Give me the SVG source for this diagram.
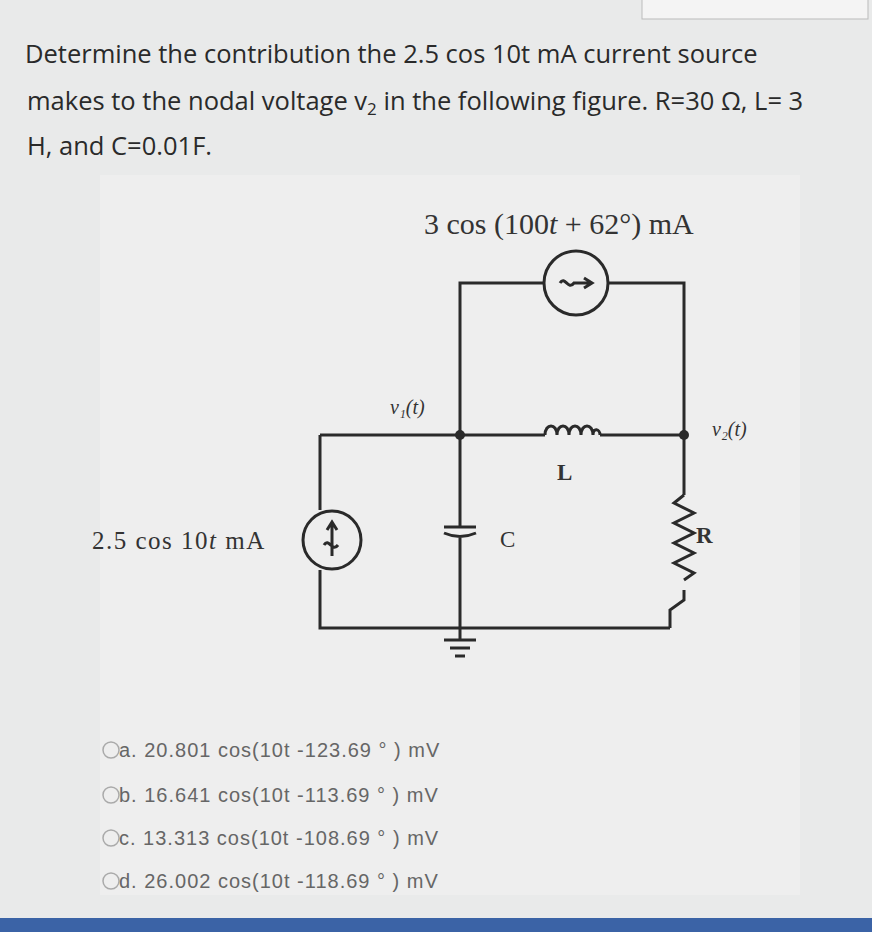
<svg xmlns="http://www.w3.org/2000/svg" width="872" height="932" viewBox="0 0 872 932">
<style>
.q{font-family:"Open Sans","Liberation Sans",sans-serif;font-size:25.5px;fill:#2a2a2a}
.c{font-family:"Liberation Serif",serif;fill:#333}
.w{stroke:#2a2a2a;stroke-width:3;fill:none}
.a{font-family:"Liberation Sans",sans-serif;font-size:20px;letter-spacing:1px;fill:#666}
.r{fill:none;stroke:#aaa;stroke-width:1.5}
</style>
<rect width="872" height="932" fill="#e9eaea"/>
<rect x="100" y="175" width="700" height="720" fill="#eeeeee"/>
<rect x="642" y="-5" width="226" height="24" fill="#f4f4f4" stroke="#bbb"/>
<rect x="0" y="918" width="872" height="14" fill="#3b63a6"/>
<text class="q" x="25" y="63">Determine the contribution the 2.5 cos 10t mA current source</text>
<text class="q" x="27" y="110">makes to the nodal voltage v<tspan font-size="17" dy="5">2</tspan><tspan dy="-5"> in the following figure. R=30 Ω, L= 3</tspan></text>
<text class="q" x="27" y="155">H, and C=0.01F.</text>
<g id="connectors">
<path class="w" d="M460,435 V283 H544 M608,283 H684 V435 M320,435 H545 M600,435 H684 M320,435 V510 M320,570 V628 H670 M460,435 V527 M460,538 V640 M684,435 V495 M684,590 V600 L670,610 V628"/>
<path class="w" d="M545,435 c0,-12 12,-12 12,0 c0,-12 12,-12 12,0 c0,-12 12,-12 12,0 c0,-12 12,-12 12,0 c0,-8 7,-6 7,0"/>
<path class="w" stroke-width="2" d="M684,495 l-10,8 l20,10 l-20,10 l20,10 l-20,10 l20,10 l-20,10 l20,10 l-10,7"/>
<path class="w" d="M444,527 H476 M444,533 Q460,540 476,533"/>
<path class="w" d="M444,640 H476 M450,648 H470 M455,656 H465"/>
</g>
<g id="nodes" fill="#2a2a2a">
<circle cx="460" cy="435" r="5"/><circle cx="684" cy="435" r="5"/>
</g>
<g id="src_top"><circle cx="576" cy="283" r="32" class="w" fill="#eee"/>
<path class="w" stroke-width="2" d="M560,283 c5,-8 8,8 14,0 H590 M584,278 L592,283 L584,288"/></g>
<g id="src_left"><circle cx="332" cy="540" r="29" class="w" fill="#eee"/>
<path class="w" stroke-width="2" d="M332,556 V524 M327,530 L332,522 L337,530 M324,545 c5,-8 8,8 14,0"/></g>
<text class="c" x="424" y="234" font-size="30">3 cos (100<tspan font-style="italic">t</tspan> + 62°) mA</text>
<text class="c" x="92" y="549" font-size="25" letter-spacing="1.5" fill="#777">2.5 cos 10<tspan font-style="italic">t</tspan> mA</text>
<text class="c" x="390" y="414" font-size="20" fill="#999" font-style="italic">v₁(t)</text>
<text class="c" x="712" y="436" font-size="20" fill="#999" font-style="italic">v₂(t)</text>
<text class="c" x="557" y="480" font-size="23" font-weight="bold">L</text>
<text class="c" x="500" y="547" font-size="23">C</text>
<text class="c" x="696" y="543" font-size="23" font-weight="bold">R</text>
<g id="answers">
<circle class="r" cx="111" cy="750" r="8"/><text class="a" x="119" y="757">a. 20.801 cos(10t -123.69 ° ) mV</text>
<circle class="r" cx="111" cy="795" r="8"/><text class="a" x="119" y="802">b. 16.641 cos(10t -113.69 ° ) mV</text>
<circle class="r" cx="111" cy="838" r="8"/><text class="a" x="119" y="845">c. 13.313 cos(10t -108.69 ° ) mV</text>
<circle class="r" cx="111" cy="881" r="8"/><text class="a" x="119" y="888">d. 26.002 cos(10t -118.69 ° ) mV</text>
</g>
</svg>
